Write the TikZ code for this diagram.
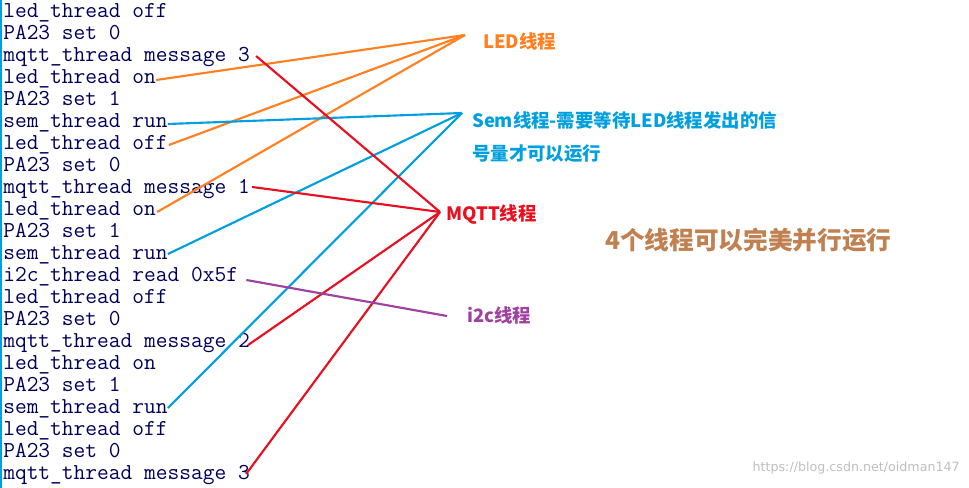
\documentclass[tikz,border=0pt]{standalone}
\usepackage{fontspec}
\newfontfamily\cjk{Noto Sans CJK SC}
\newfontfamily\wmfont{DejaVu Sans}
\begin{document}
\begin{tikzpicture}[x=0.75pt,y=-0.75pt,
  log/.style={anchor=west,inner sep=0,font=\ttfamily\fontsize{17.1}{17}\selectfont,text=blue!35!black,text height=9pt,text depth=2pt},
  lab/.style={anchor=west,inner sep=0,font=\cjk\bfseries\fontsize{13.8}{14}\selectfont},
  ln/.style={line width=1.6pt}]
\definecolor{oc}{HTML}{FF8020}\definecolor{bc}{HTML}{00A0E0}
\definecolor{rc}{HTML}{E81020}\definecolor{pc}{HTML}{A040A0}\definecolor{brc}{HTML}{C08050}
\useasboundingbox (0,0) rectangle (969,488);
\fill[white] (0,0) rectangle (969,488);
\draw[bc,line width=1pt] (1,0) -- (1,488);
\foreach \t [count=\i] in {led\_thread off,PA23 set 0,mqtt\_thread message 3,led\_thread on,PA23 set 1,sem\_thread run,led\_thread off,PA23 set 0,mqtt\_thread message 1,led\_thread on,PA23 set 1,sem\_thread run,i2c\_thread read 0x5f,led\_thread off,PA23 set 0,mqtt\_thread message 2,led\_thread on,PA23 set 1,sem\_thread run,led\_thread off,PA23 set 0,mqtt\_thread message 3}
  \node[log] (l\i) at (3,{13+22*(\i-1)}) {\t};
\node[lab,text=oc] (led) at (483,41) {LED线程};
\node[lab,text=bc] (sem) at (472,120) {Sem线程-需要等待LED线程发出的信};
\node[lab,text=bc] (sem2) at (472,154) {号量才可以运行};
\node[lab,text=rc] (mq) at (446,215) {MQTT线程};
\node[lab,text=pc] (i2c) at (467,315) {i2c线程};
\node[anchor=west,inner sep=0,font=\cjk\bfseries\fontsize{18.5}{18}\selectfont,text=brc] (all) at (605,240) {4个线程可以完美并行运行};
\node[anchor=east,inner sep=0,font=\wmfont\fontsize{9.5}{10}\selectfont,text=gray!50] (wm) at (960,468) {https://blog.csdn.net/oidman147};
\coordinate (pl) at (465,35); \coordinate (ps) at (462,113);
\coordinate (pm) at (440,212); \coordinate (pi) at (447,316);
\draw[ln,oc] (l4.east) ++(0,1) -- (pl);
\draw[ln,oc] (l7.east) ++(1,0) -- (pl);
\draw[ln,oc] (l10.east) ++(1,1) -- (pl);
\draw[ln,bc] (l6.east) ++(0,1) -- (ps);
\draw[ln,bc] (l12.east) ++(0,-1) -- (ps);
\draw[ln,bc] (l19.east) ++(0,-1) -- (ps);
\draw[ln,rc] (l3.east) ++(6,-1) -- (pm);
\draw[ln,rc] (l9.east) ++(2,-2) -- (pm);
\draw[ln,rc] (l16.east) ++(-2,2) -- (pm);
\draw[ln,rc] (l22.east) ++(-4,-1) -- (pm);
\draw[ln,pc] (l13.east) ++(8,3) -- (pi);
\end{tikzpicture}
\end{document}
